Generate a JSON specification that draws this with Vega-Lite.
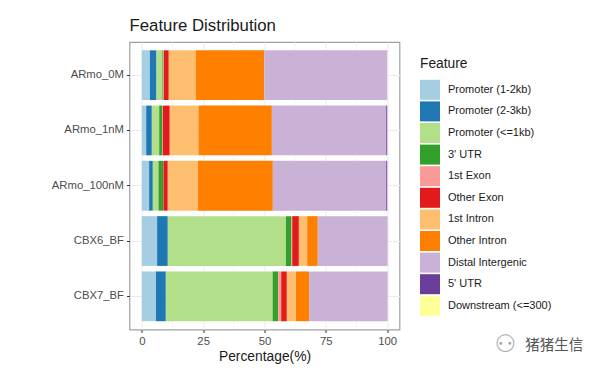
{
"$schema":"https://vega.github.io/schema/vega-lite/v6.json",
"autosize":{"type":"none"},
"width":270,"height":287.5,
"padding":{"left":129.5,"top":42,"right":203.5,"bottom":43.5},
"background":"white",
"config":{"font":"Liberation Sans"},
"title":{"text":"Feature Distribution","anchor":"start","frame":"group","font":"Liberation Sans","fontSize":16.8,"fontWeight":"normal","color":"#1a1a1a","offset":7},
"view":{"stroke":"#a0a0a0","strokeWidth":1.2,"fill":"white"},
"layer":[
{"data":{"values":[{"minor":12.5},{"minor":37.5},{"minor":62.5},{"minor":87.5}]},
 "mark":{"type":"rule","color":"#f0f0f0","strokeWidth":0.6},
 "encoding":{"x":{"field":"minor","type":"quantitative","scale":{"domain":[-5,105],"nice":false,"zero":false}}}},
{"data":{"values":[
{"sample":"ARmo_0M","feature":"Promoter (1-2kb)","rank":1,"pct":3.3},
{"sample":"ARmo_0M","feature":"Promoter (2-3kb)","rank":2,"pct":2.7},
{"sample":"ARmo_0M","feature":"Promoter (<=1kb)","rank":3,"pct":2.4},
{"sample":"ARmo_0M","feature":"3' UTR","rank":4,"pct":0.4},
{"sample":"ARmo_0M","feature":"1st Exon","rank":5,"pct":0.2},
{"sample":"ARmo_0M","feature":"Other Exon","rank":6,"pct":2.0},
{"sample":"ARmo_0M","feature":"1st Intron","rank":7,"pct":11.0},
{"sample":"ARmo_0M","feature":"Other Intron","rank":8,"pct":27.9},
{"sample":"ARmo_0M","feature":"Distal Intergenic","rank":9,"pct":50.1},
{"sample":"ARmo_1nM","feature":"Promoter (1-2kb)","rank":1,"pct":1.8},
{"sample":"ARmo_1nM","feature":"Promoter (2-3kb)","rank":2,"pct":2.3},
{"sample":"ARmo_1nM","feature":"Promoter (<=1kb)","rank":3,"pct":3.0},
{"sample":"ARmo_1nM","feature":"3' UTR","rank":4,"pct":1.3},
{"sample":"ARmo_1nM","feature":"1st Exon","rank":5,"pct":0.2},
{"sample":"ARmo_1nM","feature":"Other Exon","rank":6,"pct":2.8},
{"sample":"ARmo_1nM","feature":"1st Intron","rank":7,"pct":11.7},
{"sample":"ARmo_1nM","feature":"Other Intron","rank":8,"pct":29.9},
{"sample":"ARmo_1nM","feature":"Distal Intergenic","rank":9,"pct":46.6},
{"sample":"ARmo_1nM","feature":"5' UTR","rank":10,"pct":0.4},
{"sample":"ARmo_100nM","feature":"Promoter (1-2kb)","rank":1,"pct":3.0},
{"sample":"ARmo_100nM","feature":"Promoter (2-3kb)","rank":2,"pct":1.5},
{"sample":"ARmo_100nM","feature":"Promoter (<=1kb)","rank":3,"pct":2.3},
{"sample":"ARmo_100nM","feature":"3' UTR","rank":4,"pct":1.9},
{"sample":"ARmo_100nM","feature":"1st Exon","rank":5,"pct":0.1},
{"sample":"ARmo_100nM","feature":"Other Exon","rank":6,"pct":1.8},
{"sample":"ARmo_100nM","feature":"1st Intron","rank":7,"pct":12.2},
{"sample":"ARmo_100nM","feature":"Other Intron","rank":8,"pct":30.6},
{"sample":"ARmo_100nM","feature":"Distal Intergenic","rank":9,"pct":46.2},
{"sample":"ARmo_100nM","feature":"5' UTR","rank":10,"pct":0.4},
{"sample":"CBX6_BF","feature":"Promoter (1-2kb)","rank":1,"pct":6.25},
{"sample":"CBX6_BF","feature":"Promoter (2-3kb)","rank":2,"pct":4.35},
{"sample":"CBX6_BF","feature":"Promoter (<=1kb)","rank":3,"pct":48.1},
{"sample":"CBX6_BF","feature":"3' UTR","rank":4,"pct":2.3},
{"sample":"CBX6_BF","feature":"1st Exon","rank":5,"pct":0.3},
{"sample":"CBX6_BF","feature":"Other Exon","rank":6,"pct":2.7},
{"sample":"CBX6_BF","feature":"1st Intron","rank":7,"pct":3.4},
{"sample":"CBX6_BF","feature":"Other Intron","rank":8,"pct":4.3},
{"sample":"CBX6_BF","feature":"Distal Intergenic","rank":9,"pct":28.2},
{"sample":"CBX6_BF","feature":"5' UTR","rank":10,"pct":0.1},
{"sample":"CBX7_BF","feature":"Promoter (1-2kb)","rank":1,"pct":5.8},
{"sample":"CBX7_BF","feature":"Promoter (2-3kb)","rank":2,"pct":4.0},
{"sample":"CBX7_BF","feature":"Promoter (<=1kb)","rank":3,"pct":43.5},
{"sample":"CBX7_BF","feature":"3' UTR","rank":4,"pct":2.3},
{"sample":"CBX7_BF","feature":"1st Exon","rank":5,"pct":1.2},
{"sample":"CBX7_BF","feature":"Other Exon","rank":6,"pct":2.3},
{"sample":"CBX7_BF","feature":"1st Intron","rank":7,"pct":3.7},
{"sample":"CBX7_BF","feature":"Other Intron","rank":8,"pct":5.4},
{"sample":"CBX7_BF","feature":"Distal Intergenic","rank":9,"pct":31.7},
{"sample":"CBX7_BF","feature":"5' UTR","rank":10,"pct":0.1}
]},
 "mark":{"type":"bar","strokeWidth":0},
 "encoding":{
  "y":{"field":"sample","type":"nominal","sort":["ARmo_0M","ARmo_1nM","ARmo_100nM","CBX6_BF","CBX7_BF"],
   "scale":{"paddingInner":0.1,"paddingOuter":0.15},
   "axis":{"title":null,"labelColor":"#4d4d4d","labelFontSize":11.3,"labelPadding":3,"tickColor":"#333333","tickSize":3,"tickWidth":1,"domain":false,"grid":true,"gridColor":"#ebebeb","gridWidth":1}},
  "x":{"field":"pct","type":"quantitative","stack":"zero","scale":{"domain":[-5,105],"nice":false,"zero":false},
   "axis":{"values":[0,25,50,75,100],"title":"Percentage(%)","titleFontSize":13.8,"titleFontWeight":"normal","titleColor":"#1a1a1a","titlePadding":3,"labelColor":"#4d4d4d","labelFontSize":11.3,"labelPadding":3,"tickColor":"#333333","tickSize":3,"tickWidth":1,"domain":false,"grid":true,"gridColor":"#ebebeb","gridWidth":1}},
  "order":{"field":"rank","type":"quantitative"},
  "color":{"field":"feature","type":"nominal",
   "scale":{"domain":["Promoter (1-2kb)","Promoter (2-3kb)","Promoter (<=1kb)","3' UTR","1st Exon","Other Exon","1st Intron","Other Intron","Distal Intergenic","5' UTR","Downstream (<=300)"],
    "range":["#A6CEE3","#1F78B4","#B2DF8A","#33A02C","#FB9A99","#E31A1C","#FDBF6F","#FF7F00","#CAB2D6","#6A3D9A","#FFFF99"]},
   "legend":{"orient":"none","legendX":290.5,"legendY":15,"title":"Feature","titleFontSize":13.8,"titleFontWeight":"normal","titleColor":"#1a1a1a","titlePadding":9,"labelFontSize":11,"labelColor":"#1a1a1a","labelOffset":8,"symbolType":"square","symbolSize":400,"symbolStrokeWidth":0,"rowPadding":1.6,"symbolOpacity":1,"padding":0}}
 }},
{"data":{"values":[{"mark_text":"猪猪生信"}]},
 "mark":{"type":"text","dx":167,"dy":50,"font":"Noto Sans CJK SC","fontSize":14.5,"color":"#555555"},
 "encoding":{"text":{"field":"mark_text","type":"nominal"},"x":{"datum":100},"y":{"datum":"CBX7_BF"}}},
{"data":{"values":[{"mark_text":"⚇"}]},
 "mark":{"type":"text","dx":118,"dy":49,"font":"DejaVu Sans","fontSize":24,"color":"#aaaaaa"},
 "encoding":{"text":{"field":"mark_text","type":"nominal"},"x":{"datum":100},"y":{"datum":"CBX7_BF"}}}
]
}
